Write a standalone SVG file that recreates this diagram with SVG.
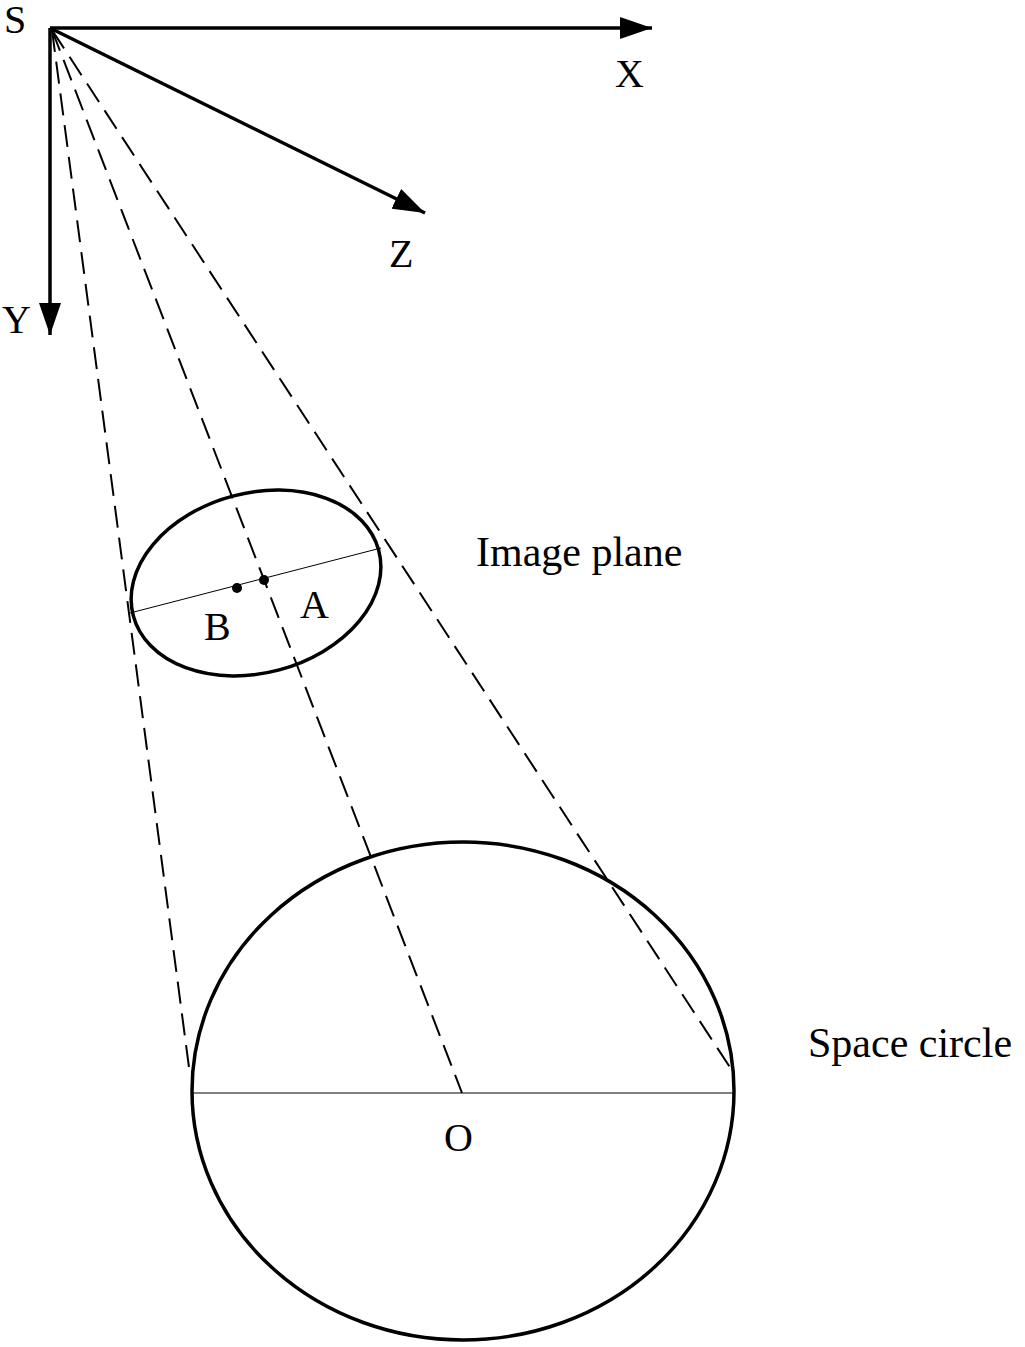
<svg xmlns="http://www.w3.org/2000/svg" width="1025" height="1347" viewBox="0 0 1025 1347">
<style>
text{font-family:"Liberation Serif",serif;font-size:40px;fill:#000}
.big{font-size:42px}
.ax{stroke:#000;stroke-width:3.5;fill:none}
.d{stroke:#000;stroke-width:2;fill:none;stroke-dasharray:22 10}
.th{stroke:#000;stroke-width:1;fill:none}
.el{stroke:#000;stroke-width:3.5;fill:none}
</style>
<defs>
<marker id="a2" viewBox="0 0 32 22" refX="32" refY="11" markerWidth="32" markerHeight="22" orient="auto" markerUnits="userSpaceOnUse"><path d="M0,0L32,11L0,22z" fill="#000"/></marker></defs>
<g id="connectors">
<line class="ax" x1="50" y1="28" x2="652" y2="28" marker-end="url(#a2)"/>
<line class="ax" x1="50" y1="28" x2="50" y2="335" marker-end="url(#a2)"/>
<line class="ax" x1="50" y1="28" x2="425" y2="213" marker-end="url(#a2)"/>
<line class="d" x1="52" y1="30" x2="190" y2="1075"/>
<line class="d" x1="52" y1="30" x2="462" y2="1093"/>
<line class="d" x1="52" y1="30" x2="733" y2="1072"/>
</g>
<g id="image-plane">
<ellipse class="el" cx="256" cy="583" rx="127" ry="90" transform="rotate(-15 256 583)"/>
<line class="th" x1="130" y1="613" x2="381" y2="548"/>
<circle cx="237" cy="588" r="5"/><circle cx="264" cy="580" r="5"/>
<text x="204" y="640">B</text><text x="300" y="618">A</text>
<text class="big" x="476" y="566">Image plane</text>
</g>
<g id="space-circle">
<ellipse class="el" cx="463" cy="1091" rx="271" ry="249"/>
<line class="th" x1="192" y1="1093" x2="734" y2="1093"/>
<text x="444" y="1151">O</text>
<text class="big" x="808" y="1057">Space circle</text>
</g>
<g id="labels">
<text x="4" y="33">S</text><text x="615" y="87">X</text><text x="389" y="267">Z</text><text x="2" y="333">Y</text>
</g>
</svg>
